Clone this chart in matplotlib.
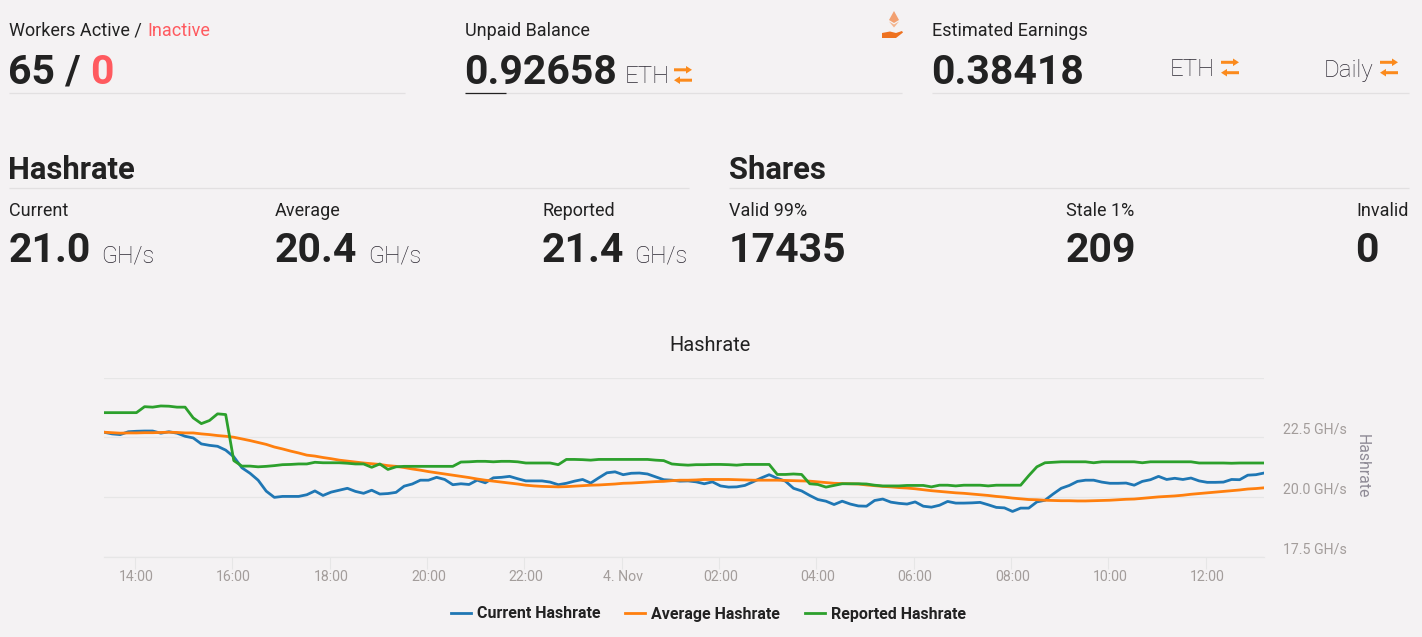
"""Mining pool dashboard: worker stats, hashrate and shares summary, hashrate chart."""

import matplotlib

matplotlib.use("Agg")
import matplotlib.pyplot as plt
import numpy as np
from matplotlib.patches import Polygon
from matplotlib.transforms import ScaledTranslation

plt.rcParams["font.family"] = ["Roboto", "DejaVu Sans"]

BG = "#f4f2f3"
DARK = "#222222"
UNIT = "#2c2832"
RED = "#ff5a5f"
ORANGE = "#fb8a1c"
RULE = "#e2e0e1"
GRID = "#e6e6e6"
TICK_TEXT = "#a39d9b"

START_HOUR = 13 + 22 / 60
STEP_HOURS = 1 / 6

current_hashrate = [
    22.72, 22.65, 22.62, 22.74, 22.76, 22.77, 22.77, 22.68, 22.74, 22.68, 22.55, 22.48,
    22.23, 22.17, 22.13, 21.97, 21.69, 21.23, 21.00, 20.71, 20.25, 19.99, 20.03, 20.03,
    20.03, 20.10, 20.26, 20.07, 20.21, 20.29, 20.37, 20.24, 20.16, 20.29, 20.13, 20.15,
    20.20, 20.46, 20.55, 20.71, 20.71, 20.83, 20.74, 20.52, 20.56, 20.53, 20.71, 20.60,
    20.81, 20.83, 20.87, 20.77, 20.68, 20.68, 20.68, 20.63, 20.52, 20.58, 20.67, 20.74,
    20.59, 20.81, 21.02, 21.06, 20.94, 21.00, 21.01, 20.97, 20.85, 20.73, 20.71, 20.67,
    20.68, 20.64, 20.56, 20.64, 20.47, 20.42, 20.43, 20.49, 20.64, 20.80, 20.94, 20.79,
    20.67, 20.37, 20.26, 20.07, 19.90, 19.83, 19.69, 19.83, 19.71, 19.63, 19.62, 19.86,
    19.92, 19.79, 19.74, 19.71, 19.80, 19.62, 19.58, 19.66, 19.82, 19.75, 19.75, 19.76,
    19.78, 19.68, 19.57, 19.55, 19.40, 19.54, 19.54, 19.80, 19.87, 20.13, 20.37, 20.49,
    20.66, 20.71, 20.71, 20.63, 20.58, 20.58, 20.59, 20.50, 20.66, 20.73, 20.87, 20.74,
    20.79, 20.74, 20.80, 20.68, 20.62, 20.62, 20.63, 20.74, 20.73, 20.92, 20.94, 21.01,
]
average_hashrate = [
    22.72, 22.70, 22.68, 22.69, 22.69, 22.70, 22.70, 22.71, 22.72, 22.71, 22.69, 22.69,
    22.65, 22.62, 22.58, 22.55, 22.51, 22.44, 22.37, 22.29, 22.21, 22.10, 22.02, 21.93,
    21.85, 21.76, 21.72, 21.66, 21.61, 21.55, 21.51, 21.47, 21.43, 21.40, 21.37, 21.32,
    21.29, 21.24, 21.18, 21.13, 21.07, 21.02, 20.97, 20.92, 20.87, 20.82, 20.76, 20.71,
    20.67, 20.63, 20.59, 20.55, 20.50, 20.47, 20.45, 20.44, 20.43, 20.44, 20.46, 20.48,
    20.50, 20.51, 20.53, 20.55, 20.58, 20.59, 20.61, 20.63, 20.65, 20.66, 20.69, 20.71,
    20.71, 20.72, 20.74, 20.74, 20.74, 20.74, 20.73, 20.72, 20.71, 20.71, 20.71, 20.71,
    20.70, 20.69, 20.68, 20.67, 20.64, 20.61, 20.58, 20.57, 20.56, 20.55, 20.51, 20.48,
    20.45, 20.43, 20.40, 20.38, 20.35, 20.31, 20.27, 20.24, 20.21, 20.18, 20.16, 20.13,
    20.10, 20.07, 20.03, 20.00, 19.96, 19.93, 19.90, 19.89, 19.87, 19.86, 19.85, 19.85,
    19.84, 19.84, 19.85, 19.86, 19.87, 19.89, 19.91, 19.92, 19.95, 19.98, 20.01, 20.03,
    20.05, 20.08, 20.12, 20.15, 20.18, 20.21, 20.24, 20.27, 20.30, 20.34, 20.36, 20.39,
]
reported_hashrate = [
    23.54, 23.54, 23.54, 23.54, 23.54, 23.79, 23.77, 23.82, 23.81, 23.77, 23.77, 23.32,
    23.08, 23.21, 23.49, 23.46, 21.53, 21.30, 21.30, 21.27, 21.29, 21.32, 21.36, 21.37,
    21.39, 21.39, 21.46, 21.44, 21.44, 21.44, 21.42, 21.39, 21.39, 21.25, 21.39, 21.16,
    21.27, 21.29, 21.29, 21.29, 21.29, 21.29, 21.29, 21.29, 21.47, 21.48, 21.50, 21.50,
    21.48, 21.50, 21.50, 21.48, 21.43, 21.43, 21.43, 21.43, 21.36, 21.58, 21.58, 21.57,
    21.55, 21.58, 21.58, 21.58, 21.58, 21.58, 21.58, 21.58, 21.55, 21.53, 21.39, 21.36,
    21.34, 21.36, 21.36, 21.37, 21.37, 21.36, 21.34, 21.37, 21.37, 21.37, 21.37, 20.95,
    20.95, 20.97, 20.95, 20.56, 20.53, 20.42, 20.49, 20.56, 20.56, 20.56, 20.55, 20.50,
    20.47, 20.47, 20.47, 20.49, 20.49, 20.49, 20.43, 20.50, 20.50, 20.47, 20.50, 20.50,
    20.50, 20.47, 20.50, 20.50, 20.50, 20.50, 20.90, 21.27, 21.44, 21.46, 21.48, 21.48,
    21.48, 21.48, 21.44, 21.48, 21.48, 21.48, 21.48, 21.48, 21.44, 21.48, 21.48, 21.48,
    21.48, 21.48, 21.48, 21.43, 21.43, 21.43, 21.43, 21.42, 21.43, 21.43, 21.43, 21.43,
]

x_tick_hours = [14, 16, 18, 20, 22, 24, 26, 28, 30, 32, 34, 36]
x_tick_labels = ["14:00", "16:00", "18:00", "20:00", "22:00", "4. Nov",
                 "02:00", "04:00", "06:00", "08:00", "10:00", "12:00"]
y_ticks = [17.5, 20.0, 22.5, 25.0]
y_tick_labels = ["17.5 GH/s", "20.0 GH/s", "22.5 GH/s", ""]

hashrate_stats = [("Current", "21.0", 9, 102), ("Average", "20.4", 275, 369), ("Reported", "21.4", 542, 635)]
share_stats = [("Valid 99%", "17435", 729), ("Stale 1%", "209", 1066), ("Invalid", "0", 1356)]

W, H = 1422, 637
fig = plt.figure(figsize=(W / 100, H / 100), dpi=100, facecolor=BG)

# Full-figure overlay in pixel units for the dashboard header
page = fig.add_axes([0, 0, 1, 1])
page.set_xlim(0, W)
page.set_ylim(H, 0)
page.axis("off")


def put(x, y, s, px, weight="normal", color=DARK, **kwargs):
    return page.text(x, y, s, fontsize=px * 0.72, fontweight=weight, color=color, va="baseline", **kwargs)


def rule(x0, x1, y, color=RULE):
    page.plot([x0, x1], [y, y], color=color, lw=0.9, solid_capstyle="butt")


def swap_icon(x, y):
    # Two opposing arrows, top one pointing right
    top = y - 5.2
    bottom = y + 5.2
    right = [(x, top - 1.5), (x + 12, top - 1.5), (x + 12, top - 3.8), (x + 18, top),
             (x + 12, top + 3.8), (x + 12, top + 1.5), (x, top + 1.5)]
    left = [(x + 18, bottom - 1.5), (x + 6, bottom - 1.5), (x + 6, bottom - 3.8), (x, bottom),
            (x + 6, bottom + 3.8), (x + 6, bottom + 1.5), (x + 18, bottom + 1.5)]
    page.add_patch(Polygon(right, closed=True, fc=ORANGE, ec="none"))
    page.add_patch(Polygon(left, closed=True, fc=ORANGE, ec="none"))


# Workers
put(9, 35.5, "Workers Active / ", 18)
put(147, 35.5, "Inactive", 18, color=RED)
put(8.5, 83.5, "65 / ", 41, "bold")
put(90, 83.5, "0", 41, "bold", color=RED)
rule(9, 405, 93)

# Balance
put(465, 35.5, "Unpaid Balance", 18)
put(464, 83.5, "0.92658", 41, "bold")
put(625, 83, "ETH", 24, "light", color=UNIT)
swap_icon(674, 75)
rule(465, 902, 93)
rule(465, 506, 93, color=DARK)

# Hand and coin icon
page.add_patch(Polygon([(894, 11), (899, 20), (894, 23), (889, 20)], closed=True, fc="#f2a070", ec="none"))
page.add_patch(Polygon([(889, 21.5), (894, 24.5), (899, 21.5), (894, 27.5)], closed=True, fc="#f4b48c", ec="none"))
page.add_patch(Polygon([(882, 33), (890, 31.5), (896, 33), (902, 31), (903, 32.5), (896, 38), (882, 38)],
                       closed=True, fc="#ee7220", ec="none"))

# Earnings
put(932, 35.5, "Estimated Earnings", 18)
put(931, 83.5, "0.38418", 41, "bold")
put(1170, 76.5, "ETH", 24, "light", color=UNIT)
swap_icon(1221, 67.5)
put(1324, 76.5, "Daily", 24, "light", color=UNIT)
swap_icon(1380, 67.5)
rule(932, 1409, 93)

# Section headings
put(8.5, 179, "Hashrate", 31, "bold")
rule(9, 689, 188)
put(729, 179, "Shares", 31, "bold")
rule(729, 1409, 188)

for label, value, x, unit_x in hashrate_stats:
    put(x, 216, label, 18)
    put(x - 0.5, 262.5, value, 41, "bold")
    put(unit_x - 0.5, 263, "GH/s", 23.5, "light", color=UNIT)

for label, value, x in share_stats:
    put(x, 216, label, 18)
    put(x - 0.5, 262.5, value, 41, "bold")

put(669, 351, "Hashrate", 20)
page.text(1362, 466, "Hashrate", fontsize=11.4, color="#8f8b96", rotation=270, ha="center", va="center")

# Hashrate chart
ax = fig.add_axes([104 / W, 1 - 556.8 / H, (1264 - 104) / W, (556.8 - 377.8) / H])
ax.set_facecolor("none")

hours = START_HOUR + np.arange(len(current_hashrate)) * STEP_HOURS
ax.plot(hours, current_hashrate, color="#1f77b4", lw=2, label="Current Hashrate")
ax.plot(hours, average_hashrate, color="#ff7f0e", lw=2, label="Average Hashrate")
ax.plot(hours, reported_hashrate, color="#2ca02c", lw=2, label="Reported Hashrate")

ax.set_xlim(hours[0], hours[-1])
ax.set_ylim(17.5, 25)

ax.set_xticks(x_tick_hours)
ax.set_xticklabels(x_tick_labels)
ax.set_yticks(y_ticks)
ax.set_yticklabels(y_tick_labels)
ax.yaxis.tick_right()
ax.grid(axis="y", color=GRID, lw=0.9)
ax.set_axisbelow(True)
ax.tick_params(axis="x", length=8.5, width=0.8, color=GRID, labelcolor=TICK_TEXT, labelsize=10.2, pad=1)
ax.tick_params(axis="y", length=0, labelcolor=TICK_TEXT, labelsize=10.2, pad=14)

# Nudge tick labels: x labels sit slightly right of their ticks, y labels above their gridlines
x_nudge = ScaledTranslation(1.5 / 100, 0, fig.dpi_scale_trans)
y_nudge = ScaledTranslation(0, 0.5 / 100, fig.dpi_scale_trans)
for lab in ax.get_xticklabels():
    lab.set_transform(lab.get_transform() + x_nudge)
for lab in ax.get_yticklabels():
    lab.set_va("bottom")
    lab.set_transform(lab.get_transform() + y_nudge)
for side in ["top", "left", "right"]:
    ax.spines[side].set_visible(False)
ax.spines["bottom"].set_color(GRID)
ax.spines["bottom"].set_linewidth(0.9)

legend = ax.legend(
    loc="center",
    bbox_to_anchor=((708.5 - 104) / (1264 - 104), (556.8 - 614) / (556.8 - 377.8)),
    ncol=3,
    frameon=False,
    prop={"size": 11.5, "weight": "bold"},
    handlelength=1.25,
    handletextpad=0.375,
    columnspacing=1.56,
)
for text in legend.get_texts():
    text.set_color(DARK)

fig.savefig("out.png", dpi=100, facecolor=BG)
